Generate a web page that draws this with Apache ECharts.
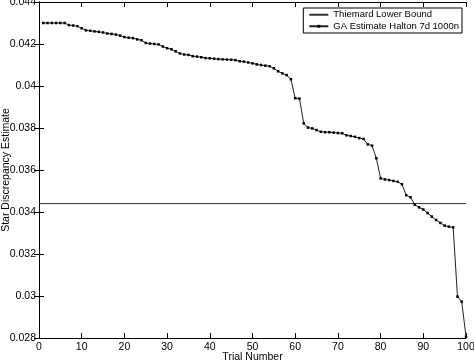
<!DOCTYPE html>
<html>
<head>
<meta charset="utf-8">
<script src="https://cdn.jsdelivr.net/npm/echarts@6/dist/echarts.min.js"></script>
<style>
html,body{margin:0;padding:0;background:#fff;}
#c{width:474px;height:362px;}
</style>
</head>
<body>
<div id="c"></div>
<script>
var trials = [];
for (var i = 1; i <= 100; i++) trials.push(i);
var gaEstimate = [
 0.04300,0.04300,0.04300,0.04300,0.04300,0.04300,0.04290,0.04288,0.04285,0.04275,
 0.04265,0.04263,0.04260,0.04258,0.04255,0.04250,0.04248,0.04245,0.04240,0.04233,
 0.04230,0.04228,0.04222,0.04218,0.04205,0.04202,0.04200,0.04198,0.04188,0.04180,
 0.04175,0.04165,0.04155,0.04150,0.04148,0.04142,0.04140,0.04137,0.04133,0.04132,
 0.04130,0.04128,0.04127,0.04126,0.04125,0.04123,0.04118,0.04116,0.04112,0.04108,
 0.04103,0.04100,0.04097,0.04094,0.04084,0.04070,0.04060,0.04052,0.04032,0.03942,
 0.03940,0.03822,0.03802,0.03798,0.03790,0.03782,0.03780,0.03780,0.03778,0.03776,
 0.03775,0.03765,0.03762,0.03758,0.03752,0.03748,0.03722,0.03716,0.03656,0.03560,
 0.03555,0.03552,0.03548,0.03544,0.03532,0.03480,0.03470,0.03435,0.03422,0.03412,
 0.03395,0.03378,0.03362,0.03348,0.03335,0.03330,0.03327,0.02997,0.02973,0.02806
];
var lowerBoundX = [0, 100];
var lowerBoundValue = 0.0344;
var seriesNames = ['Thiemard Lower Bound', 'GA Estimate Halton 7d 1000n'];
var xTitle = 'Trial Number';
var yTitle = 'Star Discrepancy Estimate';

var font = 'Liberation Sans, Arial, Helvetica, sans-serif';
var chart = echarts.init(document.getElementById('c'), null, {renderer: 'canvas'});
var tickStyle = {show: true, inside: true, length: 5, lineStyle: {color: '#000', width: 1}};
var lineAx = {show: true, lineStyle: {color: '#000', width: 1}};
chart.setOption({
  animation: false,
  backgroundColor: '#fff',
  textStyle: {fontFamily: font},
  grid: {left: 39, right: 8, top: 2, bottom: 24, containLabel: false, outerBoundsMode: 'none'},
  legend: {
    right: 12, top: 8,
    orient: 'vertical',
    backgroundColor: '#fff',
    borderColor: '#000', borderWidth: 1,
    padding: [1, 3, 1, 5],
    itemGap: 0,
    itemWidth: 19, itemHeight: 3.5,
    textStyle: {fontFamily: font, fontSize: 9.5, color: '#000', lineHeight: 11.5},
    data: [
      {name: seriesNames[0], itemStyle: {color: 'rgba(0,0,0,0)'}},
      {name: seriesNames[1]}
    ]
  },
  xAxis: [{
    type: 'value', min: 0, max: 100, interval: 10,
    name: xTitle, nameLocation: 'middle', nameGap: 14, nameMoveOverlap: false,
    nameTextStyle: {fontFamily: font, fontSize: 10.5, color: '#000'},
    axisLine: lineAx, axisTick: tickStyle,
    axisLabel: {fontFamily: font, fontSize: 10.5, color: '#000', margin: 4},
    splitLine: {show: false}
  }, {
    type: 'value', min: 0, max: 100, interval: 10, position: 'top',
    axisLine: lineAx, axisTick: tickStyle, axisLabel: {show: false}, splitLine: {show: false}
  }],
  yAxis: [{
    type: 'value', min: 0.028, max: 0.044, interval: 0.002,
    name: yTitle, nameLocation: 'middle', nameGap: 27, nameMoveOverlap: false,
    nameTextStyle: {fontFamily: font, fontSize: 10.5, color: '#000'},
    axisLine: lineAx, axisTick: tickStyle,
    axisLabel: {fontFamily: font, fontSize: 10.5, color: '#000', margin: 3},
    splitLine: {show: false}
  }, {
    type: 'value', min: 0.028, max: 0.044, interval: 0.002, position: 'right',
    axisLine: lineAx, axisTick: tickStyle, axisLabel: {show: false}, splitLine: {show: false}
  }],
  series: [{
    name: seriesNames[0], type: 'line',
    data: lowerBoundX.map(function (x) { return [x, lowerBoundValue]; }),
    showSymbol: false, symbol: 'none',
    lineStyle: {color: '#333', width: 1},
    itemStyle: {color: '#333'}
  }, {
    name: seriesNames[1], type: 'line',
    data: trials.map(function (t, i) { return [t, gaEstimate[i]]; }),
    symbol: 'rect', symbolSize: 2.5, showSymbol: true,
    lineStyle: {color: '#222', width: 1},
    itemStyle: {color: '#000'}
  }]
});
</script>
</body>
</html>
